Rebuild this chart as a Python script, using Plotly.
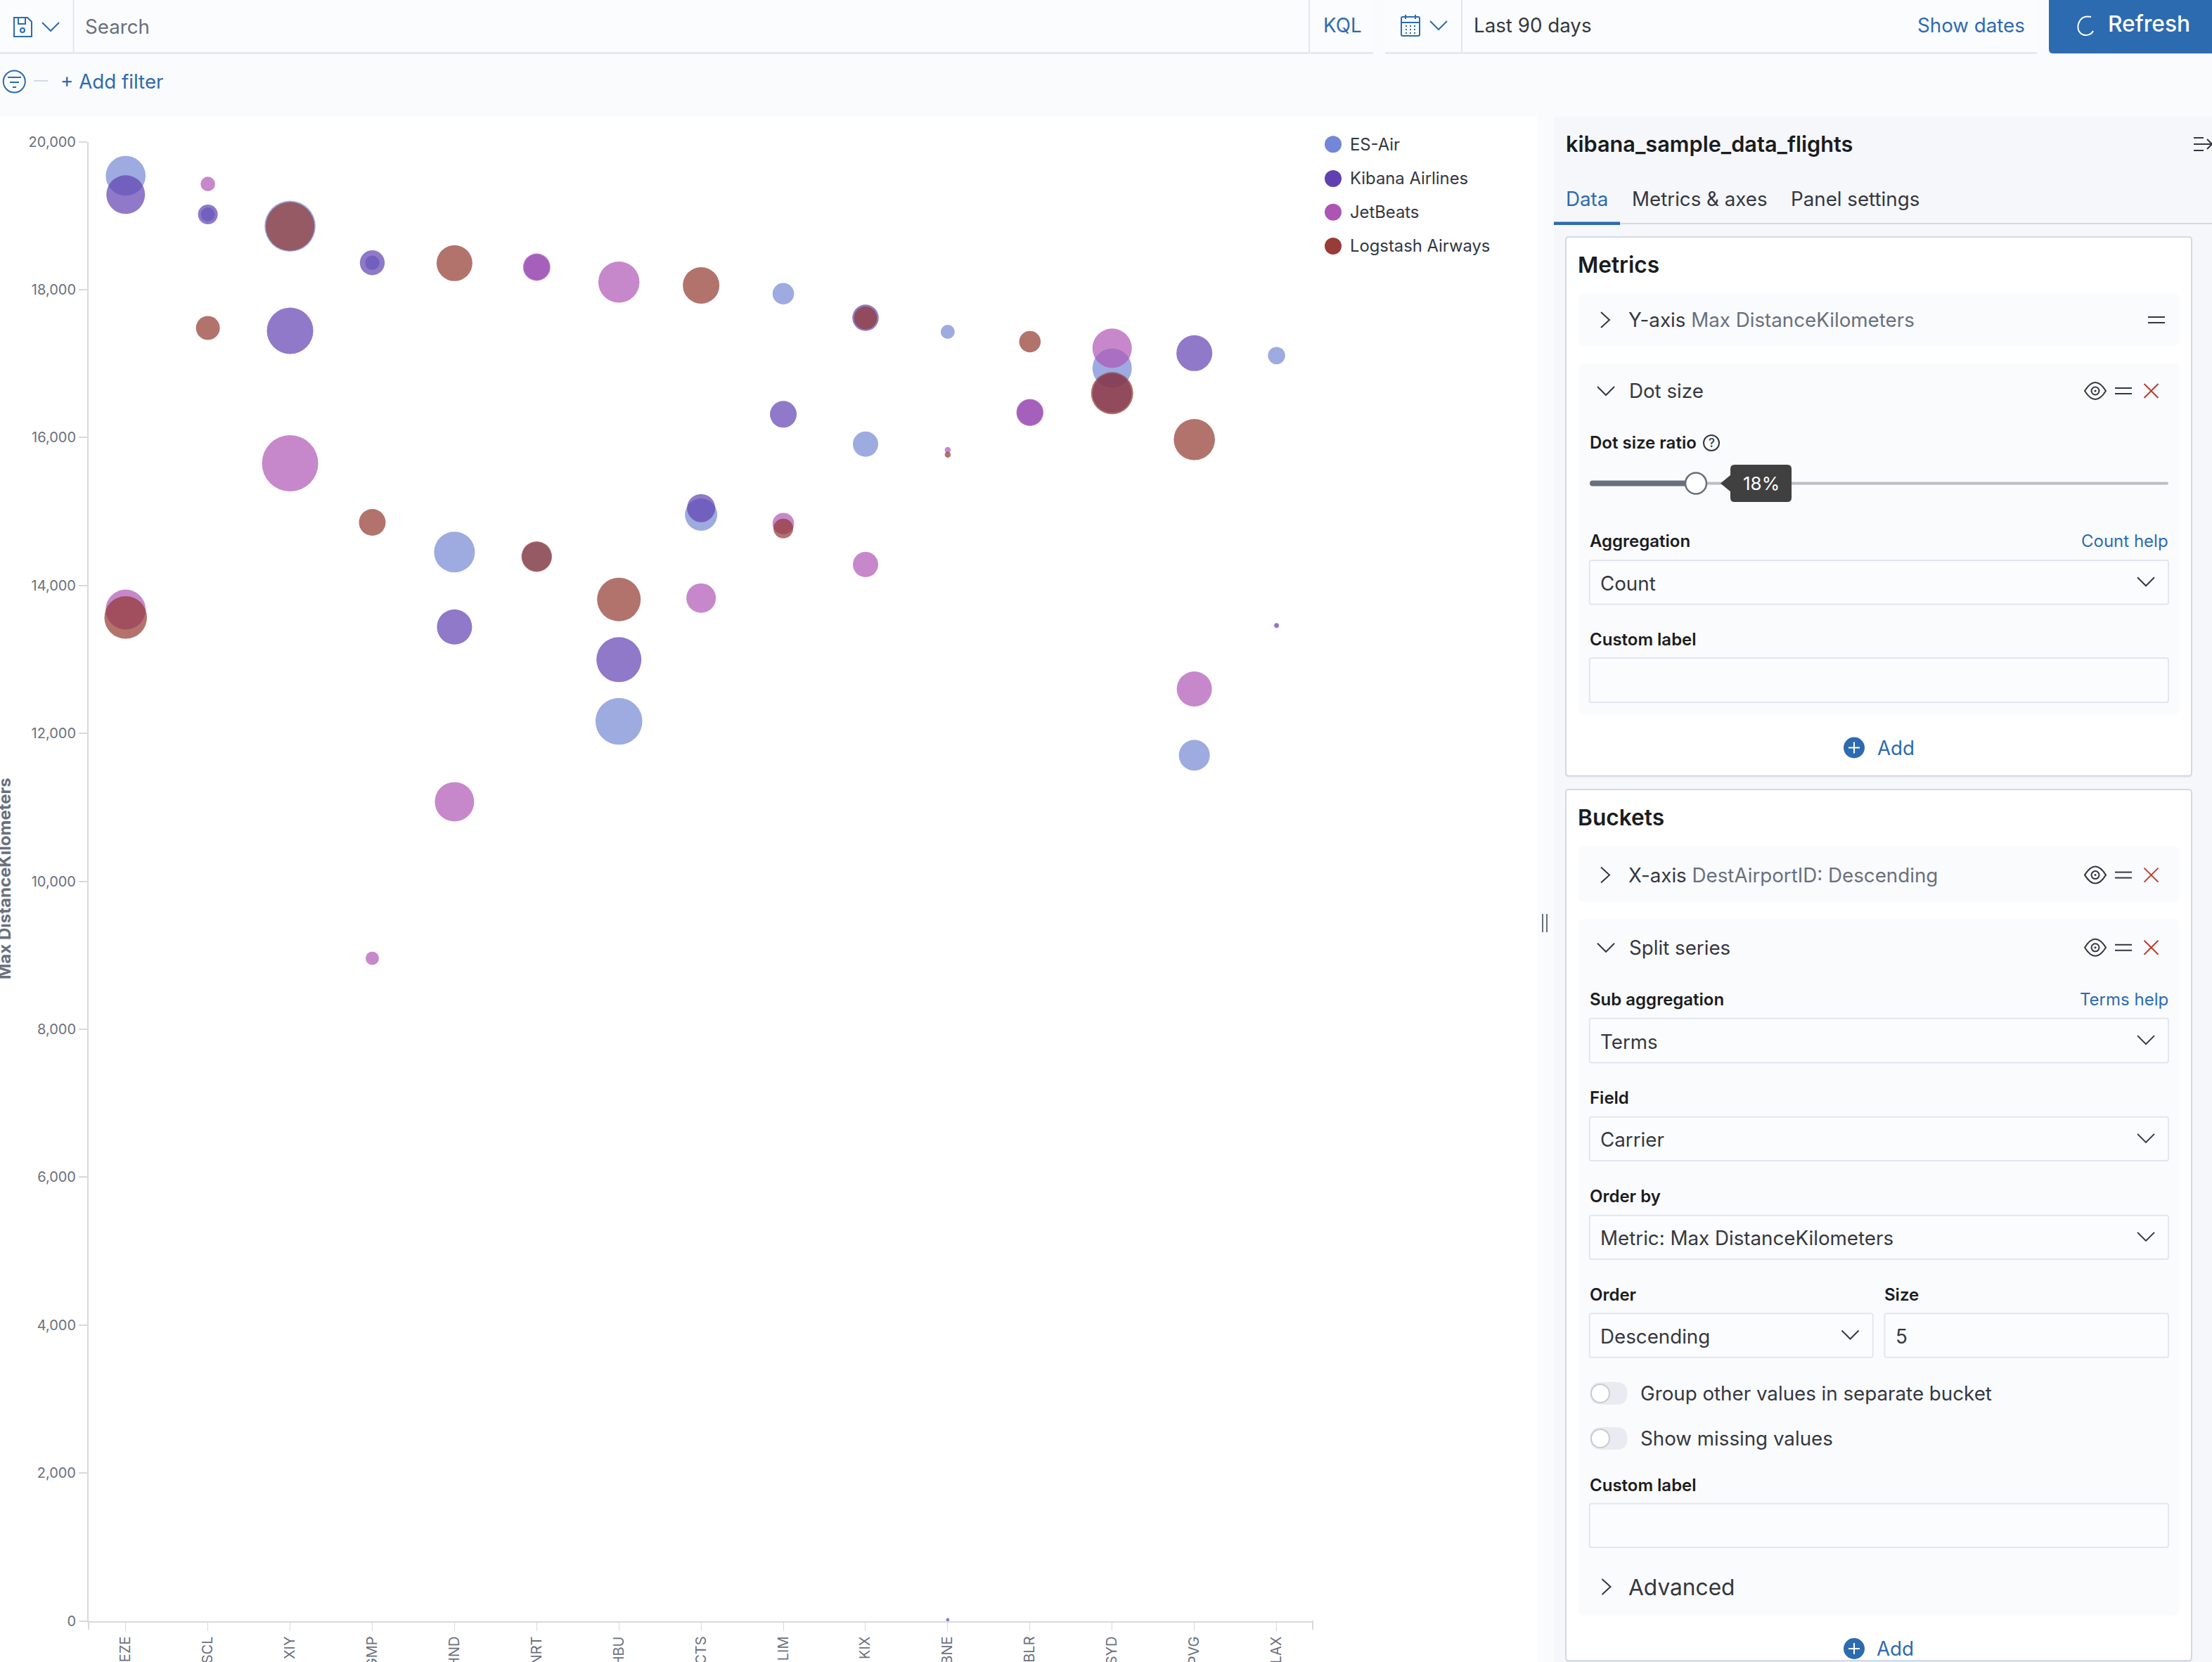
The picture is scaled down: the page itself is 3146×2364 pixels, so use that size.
import plotly.graph_objects as go

# ---------- chart data ----------
airports = ["EZE", "SCL", "XIY", "GMP", "HND", "NRT", "HBU", "CTS", "LIM", "KIX", "BNE", "BLR", "SYD", "PVG", "LAX"]
y_ticks = [0, 2000, 4000, 6000, 8000, 10000, 12000, 14000, 16000, 18000, 20000]
carriers = ["ES-Air", "Kibana Airlines", "JetBeats", "Logstash Airways"]

es_air_max = [19541, 19018, 18859, 18365, 14452, 14391, 12164, 14959, 17946, 15912, 17430, None, 16939, 11705, 17110]
es_air_count = [801, 100, 1318, 106, 841, 428, 1109, 529, 234, 324, 100, 0, 784, 484, 151]
kibana_max = [19286, 19018, 17445, 18365, 13440, 18305, 12997, 15047, 16315, 17620, 15, 16340, 16600, 17142, 13459]
kibana_count = [756, 196, 1089, 313, 625, 342, 1024, 400, 361, 350, 6, 342, 784, 650, 12]
jetbeats_max = [13675, 19430, 15652, 8960, 11076, 18305, 18103, 13830, 14838, 14284, 15833, 16340, 17209, 12601, None]
jetbeats_count = [812, 106, 1600, 90, 784, 380, 858, 441, 234, 324, 18, 372, 784, 625, 0]
logstash_max = [13568, 17483, 18856, 14854, 18359, 14391, 13811, 18058, 14771, 17618, 15770, 17297, 16600, 15973, None]
logstash_count = [918, 289, 1204, 361, 650, 471, 961, 676, 196, 266, 18, 234, 900, 858, 0]

series_max = [es_air_max, kibana_max, jetbeats_max, logstash_max]
series_count = [es_air_count, kibana_count, jetbeats_count, logstash_count]
colors = ["#7387D3", "#6040B0", "#AE56B5", "#92382F"]
legend_solid = ["#7387D6", "#6040B0", "#AD55B5", "#983C38"]

# ---------- canvas helpers (pixel positions of the page chrome) ----------
W, H = 3146, 2364
FONT = "Inter, Roboto, sans-serif"
INK, GREY, BLUE, RED, BORDER = "#343741", "#69707D", "#2D6BB0", "#BD3A2C", "#E3E6EF"
shapes, notes = [], []


def px(x): return x / W
def py(y): return 1 - y / H
def pt(x, y): return f"{px(x):.6f},{py(y):.6f}"


def path(d, fill=None, line=None, lw=2):
    s = dict(type="path", xref="paper", yref="paper", path=d, layer="below",
             line=dict(width=lw if line else 0, color=line or "rgba(0,0,0,0)"))
    if fill:
        s["fillcolor"] = fill
    shapes.append(s)


def box(x0, y0, x1, y1, r=0, fill=None, line=None, lw=2):
    if r == 0:
        d = f"M{pt(x0,y0)} L{pt(x1,y0)} L{pt(x1,y1)} L{pt(x0,y1)} Z"
    else:
        d = (f"M{pt(x0+r,y0)} L{pt(x1-r,y0)} Q{pt(x1,y0)} {pt(x1,y0+r)} L{pt(x1,y1-r)} "
             f"Q{pt(x1,y1)} {pt(x1-r,y1)} L{pt(x0+r,y1)} Q{pt(x0,y1)} {pt(x0,y1-r)} "
             f"L{pt(x0,y0+r)} Q{pt(x0,y0)} {pt(x0+r,y0)} Z")
    path(d, fill, line, lw)


def circle(cx, cy, r, fill=None, line=None, lw=2):
    s = dict(type="circle", xref="paper", yref="paper", layer="below",
             x0=px(cx - r), x1=px(cx + r), y0=py(cy + r), y1=py(cy - r),
             line=dict(width=lw if line else 0, color=line or "rgba(0,0,0,0)"))
    if fill:
        s["fillcolor"] = fill
    shapes.append(s)


def seg(points, line=INK, lw=2):
    path("M" + " L".join(pt(*p) for p in points), None, line, lw)


def text(x, y, s, size=28, color=INK, weight=400, anchor="left", angle=0):
    notes.append(dict(xref="paper", yref="paper", x=px(x), y=py(y), text=s, showarrow=False,
                      xanchor=anchor, yanchor="middle", borderpad=0, borderwidth=0, textangle=angle,
                      font=dict(family=FONT, size=size * 0.99 if size >= 28 else size,
                                color=color, weight=weight)))


def chev_right(x, y): seg([(x - 6, y - 11), (x + 6, y), (x - 6, y + 11)], lw=2)
def chev_down(x, y): seg([(x - 12, y - 6), (x, y + 6), (x + 12, y - 6)], lw=2)


def grip(x, y):
    seg([(x - 12, y - 4), (x + 12, y - 4)], lw=2)
    seg([(x - 12, y + 4), (x + 12, y + 4)], lw=2)


def eye(x, y):
    path(f"M{pt(x-15,y)} Q{pt(x,y-24)} {pt(x+15,y)} Q{pt(x,y+24)} {pt(x-15,y)} Z", None, INK, 2)
    circle(x, y, 5.5, None, INK, 2)
    circle(x, y, 1.5, INK)


def cross(x, y):
    seg([(x - 10, y - 10), (x + 10, y + 10)], RED, 2)
    seg([(x - 10, y + 10), (x + 10, y - 10)], RED, 2)


def row_icons(y):
    eye(2980, y)
    grip(3020, y)
    cross(3059.5, y)


def plus(cx, cy):
    circle(cx, cy, 15, BLUE)
    seg([(cx - 8, cy), (cx + 8, cy)], "#FFFFFF", 2)
    seg([(cx, cy - 8), (cx, cy + 8)], "#FFFFFF", 2)


def field(x0, y0, x1, y1, label=None, chevron=None):
    box(x0, y0, x1, y1, 3, "#FBFCFD", BORDER, 2)
    if label:
        text(x0 + 15.5, (y0 + y1) / 2 + 1.5, label)
    if chevron:
        chev_down(chevron, (y0 + y1) / 2 - 1)


# ---------- page background ----------
box(0, 166, 2186, H, 0, "#FFFFFF")
box(2210, 166, W, H, 0, "#F5F7FA")
seg([(2194, 1300), (2194, 1326)], "#69707D", 2)
seg([(2200, 1300), (2200, 1326)], "#69707D", 2)

# top bar
box(0, -4, 1953, 77, 0, "#E6E9F0")
box(0, -4, 1953, 74, 0, "#FBFCFD")
seg([(104.6, 0), (104.6, 74)], "#E3E6EF", 2)
seg([(1862, 0), (1862, 74)], "#E3E6EF", 2)
path(f"M{pt(20,25)} L{pt(39,25)} L{pt(45,31)} L{pt(45,52)} L{pt(20,52)} Z", None, BLUE, 2)
box(26, 25, 36, 34, 0, None, BLUE, 2)
circle(32, 43, 3, None, BLUE, 2)
seg([(60, 32), (72, 44), (84, 32)], BLUE, 2)
text(120.7, 38, "Search", 28, GREY)
text(1881.5, 36, "KQL", 28, BLUE)

box(1970, -4, 2897, 77, 0, "#E6E9F0")
box(1970, -4, 2897, 74, 0, "#FBFCFD")
seg([(2079, 0), (2079, 74)], "#E3E6EF", 2)
box(1993, 24, 2019, 51, 2, None, BLUE, 2)
seg([(1993, 32), (2019, 32)], BLUE, 2)
seg([(1999, 21), (1999, 27)], BLUE, 2)
seg([(2013, 21), (2013, 27)], BLUE, 2)
for gx in (2000, 2006, 2012):
    for gy in (37, 42, 47):
        box(gx - 1, gy - 1, gx + 1, gy + 1, 0, BLUE)
seg([(2034, 30), (2046, 42), (2058, 30)], BLUE, 2)
text(2096, 36, "Last 90 days", 28, INK)
text(2880, 36, "Show dates", 28, BLUE, 400, "right")

box(2914, -8, W + 10, 76, 6, BLUE)
path(f"M{pt(2974,24)} C{pt(2956,20)} {pt(2952,40)} {pt(2958,46)} C{pt(2964,53)} {pt(2974,50)} {pt(2977,44)}",
     None, "#FFFFFF", 2)
text(2998, 34, "Refresh", 32, "#FFFFFF", 500)

# filter row
circle(20.3, 116, 15.5, None, BLUE, 2)
seg([(11, 110), (30, 110)], BLUE, 2)
seg([(14, 117), (27, 117)], BLUE, 2)
seg([(18, 124), (23, 124)], BLUE, 2)
seg([(48, 115), (68, 115)], "#D3DAE6", 2)
text(86, 116, "+ Add filter", 28, BLUE)

# legend (solid swatches, like the reference)
for name, col, ly in zip(carriers, legend_solid, [205.3, 254, 301.8, 350]):
    circle(1896, ly, 12, col)
    text(1920, ly, name, 23.8, INK)

# chart axis end ticks
seg([(126, 2305), (126, 2318)], "#D9D9D9", 2)
seg([(1867, 2305), (1867, 2318)], "#D9D9D9", 2)

# y axis title, placed as in the reference (its left side runs off the page)
text(6, 1250, "Max DistanceKilometers", 24, GREY, 700, "center", -90)

# side panel head
text(2227, 205, "kibana_sample_data_flights", 31, "#1A1C21", 600)
seg([(3120, 196), (3134, 196)], INK, 2)
seg([(3120, 205), (3146, 205)], INK, 2)
seg([(3120, 214), (3134, 214)], INK, 2)
seg([(3139, 198), (3146, 205), (3139, 212)], INK, 2)
text(2227, 282.6, "Data", 28, BLUE)
text(2321, 282.6, "Metrics &amp; axes", 28, INK)
text(2547, 282.6, "Panel settings", 28, INK)
box(2210, 317, W, 319, 0, "#D3DAE6")
box(2210, 315.5, 2304, 320, 0, BLUE)

# metrics card
box(2227, 339, 3117, 1106, 4, "#E6E9F0")
box(2227, 337, 3117, 1103.6, 4, "#FFFFFF", "#D3DAE6", 2)
text(2244, 376, "Metrics", 32, "#1A1C21", 600)
box(2245, 418, 3099.6, 492, 8, "#FAFBFD")
chev_right(2283, 455)
text(2316, 455, f'Y-axis <span style="color:{GREY}">Max DistanceKilometers</span>', 28, INK)
grip(3067, 455)

box(2245, 516.5, 3099.6, 1015.7, 8, "#FAFBFD")
chev_down(2284, 556)
text(2317, 556, "Dot size", 28, INK)
row_icons(556)
text(2260.7, 630, "Dot size ratio", 24, "#1A1C21", 600)
circle(2434, 630, 11, None, INK, 2)
text(2434, 630, "?", 17, INK, 500, "center")
box(2261, 685.6, 3084, 689.6, 2, "#BBBEC5")
box(2261, 683.6, 2412, 691.6, 4, GREY)
circle(2412, 687.6, 15, "#FFFFFF", GREY, 2.5)
box(2461, 661, 2548, 714, 6, "#404040")
path(f"M{pt(2462,675)} L{pt(2447,687.6)} L{pt(2462,700)} Z", "#404040")
text(2504.5, 687.6, "18%", 26, "#FFFFFF", 400, "center")
text(2260.7, 769.7, "Aggregation", 24, "#1A1C21", 600)
text(3084, 769.7, "Count help", 24, BLUE, 400, "right")
field(2260.7, 797, 3084, 859.5, "Count", 3052)
text(2260.7, 910, "Custom label", 24, "#1A1C21", 600)
field(2260.7, 936, 3084, 999)
plus(2637, 1063.5)
text(2670, 1063.5, "Add", 28, BLUE)

# buckets card
box(2227, 1125, 3117, 2365, 4, "#E6E9F0")
box(2227, 1123, 3117, 2362, 4, "#FFFFFF", "#D3DAE6", 2)
text(2244, 1162.5, "Buckets", 32, "#1A1C21", 600)
box(2245, 1203.8, 3099.6, 1283, 8, "#FAFBFD")
chev_right(2283, 1244.6)
text(2316, 1244.6, f'X-axis <span style="color:{GREY}">DestAirportID: Descending</span>', 28, INK)
row_icons(1244.6)

box(2245, 1308, 3099.6, 2297.7, 8, "#FAFBFD")
chev_down(2284, 1347.8)
text(2317, 1347.8, "Split series", 28, INK)
row_icons(1347.8)
text(2260.7, 1421.4, "Sub aggregation", 24, "#1A1C21", 600)
text(3084, 1421.4, "Terms help", 24, BLUE, 400, "right")
field(2260.7, 1448.6, 3084, 1511.6, "Terms", 3052)
text(2260.7, 1561.5, "Field", 24, "#1A1C21", 600)
field(2260.7, 1588.7, 3084, 1651, "Carrier", 3052)
text(2260.7, 1701.5, "Order by", 24, "#1A1C21", 600)
field(2260.7, 1728.7, 3084, 1791, "Metric: Max DistanceKilometers", 3052)
text(2260.7, 1841.6, "Order", 24, "#1A1C21", 600)
text(2680.4, 1841.6, "Size", 24, "#1A1C21", 600)
field(2260.7, 1868.3, 2663.7, 1930.7, "Descending", 2631.5)
field(2680.4, 1868.3, 3084, 1930.7, "5")
for ty, label in [(1982, "Group other values in separate bucket"), (2046, "Show missing values")]:
    box(2261.5, ty - 16, 2314.6, ty + 16, 16, "#E9EBF0")
    circle(2276, ty, 13, "#FFFFFF", "#C8CBD2", 2)
    text(2332.7, ty, label, 28, INK)
text(2260.7, 2112, "Custom label", 24, "#1A1C21", 600)
field(2260.7, 2138.7, 3084, 2201)
chev_right(2284.5, 2257)
text(2316, 2257, "Advanced", 32, INK)
plus(2637, 2345)
text(2669, 2345, "Add", 28, BLUE)

# ---------- figure ----------
fig = go.Figure()
for name, col, vals, counts in zip(carriers, colors, series_max, series_count):
    fig.add_trace(go.Scatter(
        x=airports, y=vals, mode="markers", name=name, showlegend=False, cliponaxis=False,
        marker=dict(color=col, opacity=0.7, size=counts, sizemode="area", sizeref=0.5, line=dict(width=0)),
    ))

fig.update_layout(
    width=W, height=H, margin=dict(l=0, r=0, t=0, b=0), autosize=False,
    paper_bgcolor="#FAFBFD", plot_bgcolor="rgba(0,0,0,0)", showlegend=False,
    font=dict(family=FONT, color=GREY), shapes=shapes, annotations=notes,
    xaxis=dict(domain=[px(126), px(1867)], type="category", categoryorder="array", categoryarray=airports,
               range=[-0.451, 14.44], tickmode="array", tickvals=airports, ticktext=airports, tickangle=-90,
               showgrid=False, zeroline=False, showline=True, linecolor="#D9D9D9", linewidth=2,
               ticks="outside", ticklen=12, tickwidth=1, tickcolor="#D9D9D9",
               tickfont=dict(family=FONT, size=20, color=GREY), automargin=False),
    yaxis=dict(domain=[py(2305.5), py(201.7)], range=[0, 20000], tickmode="array", tickvals=y_ticks,
               tickformat=",d", showgrid=False, zeroline=False, showline=True, linecolor="#D9D9D9", linewidth=2,
               ticks="outside", ticklen=12, tickwidth=2, tickcolor="#D9D9D9",
               tickfont=dict(family=FONT, size=20, color=GREY), automargin=False),
)

# the page's default 8px body margin would shift everything off the reference
fig.write_html("out.html", config={"displayModeBar": False},
               post_script="document.body.style.margin='0';document.documentElement.style.overflow='hidden';")
